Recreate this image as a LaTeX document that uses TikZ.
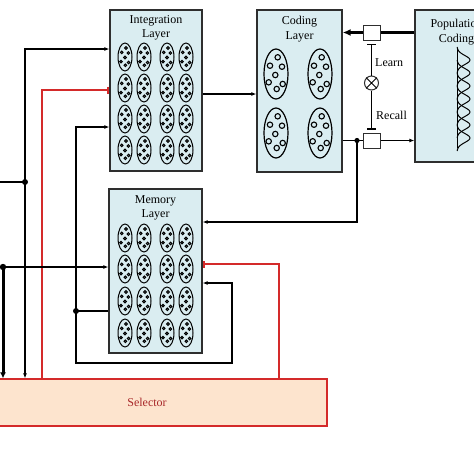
\documentclass[tikz,border=0pt]{standalone}
\usepackage{fontspec}
\setmainfont{Liberation Serif}
\usetikzlibrary{arrows.meta}
\definecolor{boxfill}{HTML}{DAEDF1}
\definecolor{boxline}{HTML}{2E2E2E}
\definecolor{selfill}{HTML}{FDE4CE}
\definecolor{redline}{HTML}{D42A2A}
\definecolor{seltext}{HTML}{A8282A}
\tikzset{
  layer/.style={draw=boxline, line width=1.3pt, fill=boxfill, inner sep=0pt},
  selbox/.style={draw=redline, line width=1.3pt, fill=selfill, inner sep=0pt},
  gate/.style={draw=boxline, line width=1pt, fill=white, inner sep=0pt, minimum width=17pt, minimum height=15pt},
  ttl/.style={align=center, inner sep=0pt, font=\fontsize{12}{14.5}\selectfont},
  conn/.style={line width=1.1pt, draw=black, -{Latex[length=5pt,width=4pt]}},
  plain/.style={line width=1.1pt, draw=black},
  thickconn/.style={line width=2.4pt, draw=black, -{Latex[length=8pt,width=7pt]}},
  inh/.style={line width=1.1pt, draw=redline, -{Bar[width=7pt,line width=2.5pt]}},
  blockline/.style={line width=1pt, draw=black, -{Bar[width=9pt,line width=1.2pt]}, shorten >=3pt},
  dotc/.style={fill=black},
  ell/.style={line width=1pt, draw=black},
}
\begin{document}
\begin{tikzpicture}[x=1pt,y=-1pt]
\useasboundingbox (0,0) rectangle (474,474);
\clip (0,0) rectangle (474,474);
\fill[white] (0,0) rectangle (474,474);

% boxes
\node[layer, minimum width=92pt, minimum height=161pt] (int) at (156,90.5) {};
\node[layer, minimum width=93pt, minimum height=164pt] (mem) at (155.5,271) {};
\node[layer, minimum width=85pt, minimum height=162pt] (cod) at (299.5,91) {};
\node[layer, minimum width=72pt, minimum height=152pt] (pop) at (451,86) {};
\node[selbox, minimum width=340pt, minimum height=47pt] (sel) at (157,402.5) {};

% titles
\node[ttl] (intT) at (156,28) {Integration\\Layer};
\node[ttl] (memT) at (155.5,208) {Memory\\Layer};
\node[ttl] (codT) at (299.5,29) {Coding\\Layer};
\node[ttl] (popT) at (456.5,32) {Population\\Coding};
\node[ttl, text=seltext] (selT) at (147,402) {Selector};

% small ellipses in integration and memory layers
\foreach \cx in {125,144,167,186}{
  \foreach \cy in {57,88,119,150,238,269,301,333}{
    \draw[ell] (\cx,\cy) ellipse [x radius=7pt, y radius=14pt];
    \foreach \dx/\dy in {1/-9,-3.3/-4.6,3.3/-4,0/0.5,-4/4.6,3.7/5.5,0.4/8.3}{
      \draw[line width=1pt] (\cx+\dx,\cy+\dy) circle (1.3pt);
    }
  }
}
% big ellipses in coding layer
\foreach \cx in {276,320}{
  \foreach \cy in {74,133}{
    \draw[ell, line width=1.2pt] (\cx,\cy) ellipse [x radius=12pt, y radius=25pt];
    \foreach \dx/\dy in {1.7/-16.7,-6/-8.3,6/-7.3,-0.7/1,-7.3/8.3,6.7/10,0.7/15}{
      \draw[line width=1.1pt] (\cx+\dx,\cy+\dy) circle (2.7pt);
    }
  }
}
% population tuning curves
\draw[line width=1pt] (457,48) -- (457,148);
\foreach \k in {0,...,6}{
  \pgfmathsetmacro{\yc}{60+13*\k}
  \draw[line width=1pt] plot[domain=\yc-13:\yc+13, samples=40, smooth] ({457+13*exp(-((\x-\yc)^2)/(2*20))}, \x);
}

% gates
\node[gate] (sqt) at (371.5,32.5) {};
\node[gate] (sqb) at (371.5,140.5) {};
\node[draw=boxline, line width=1pt, circle, minimum size=14pt, inner sep=0pt, fill=white] (ox) at (371.5,83) {};
\draw[line width=1pt] (ox.45) -- (ox.225) (ox.135) -- (ox.315);
\node[ttl, anchor=west] (learn) at (375,63) {Learn};
\node[ttl, anchor=west] (recall) at (376,115) {Recall};
\draw[blockline] (ox.north) -- (sqt.south);
\draw[blockline] (ox.south) -- (sqb.north);

% junction coordinates
\coordinate (in1) at (0,182);
\coordinate (d1) at (25,182);
\coordinate (c1) at (25,49);
\coordinate (r1) at (42,90);
\coordinate (c3) at (76,127);
\coordinate (d3) at (76,311);
\coordinate (c4) at (76,363);
\coordinate (c5) at (232,363);
\coordinate (c6) at (232,283);
\coordinate (in2) at (0,267);
\coordinate (d2) at (3,267);
\coordinate (r2) at (279,264);
\coordinate (c7) at (202,94);
\coordinate (d4) at (357,140.5);
\coordinate (c8) at (357,222);

% left side connectors
\draw[plain] (in1) -- (d1);
\draw[conn] (d1) -- (c1) -- (c1 -| int.west);
\draw[conn] (d1) -- (d1 |- sel.north);
\draw[inh] (r1 |- sel.north) -- (r1) -- (r1 -| int.west);
\draw[conn] (mem.west |- d3) -- (d3) -- (c3) -- (c3 -| int.west);
\draw[conn] (d3) -- (c4) -- (c5) -- (c6) -- (c6 -| mem.east);
\draw[conn] (in2) -- (in2 -| mem.west);
\draw[line width=3pt, -{Latex[length=6pt,width=6pt]}] (d2) -- (d2 |- sel.north);
\draw[inh] (r2 |- sel.north) -- (r2) -- (r2 -| mem.east);

% middle connectors
\draw[conn] (int.east |- c7) -- (cod.west |- c7);
\draw[plain] (cod.east |- d4) -- (sqb.west);
\draw[conn] (sqb.east) -- (pop.west |- sqb.east);
\draw[conn] (d4) -- (c8) -- (c8 -| mem.east);
\draw[line width=2.4pt] (pop.west |- sqt.east) -- (sqt.east);
\draw[thickconn] (sqt.west) -- (sqt.west -| cod.east);

% dots
\fill[dotc] (d1) circle (3pt);
\fill[dotc] (d3) circle (3pt);
\fill[dotc] (d2) circle (3.2pt);
\fill[dotc] (d4) circle (2.6pt);
\end{tikzpicture}
\end{document}
